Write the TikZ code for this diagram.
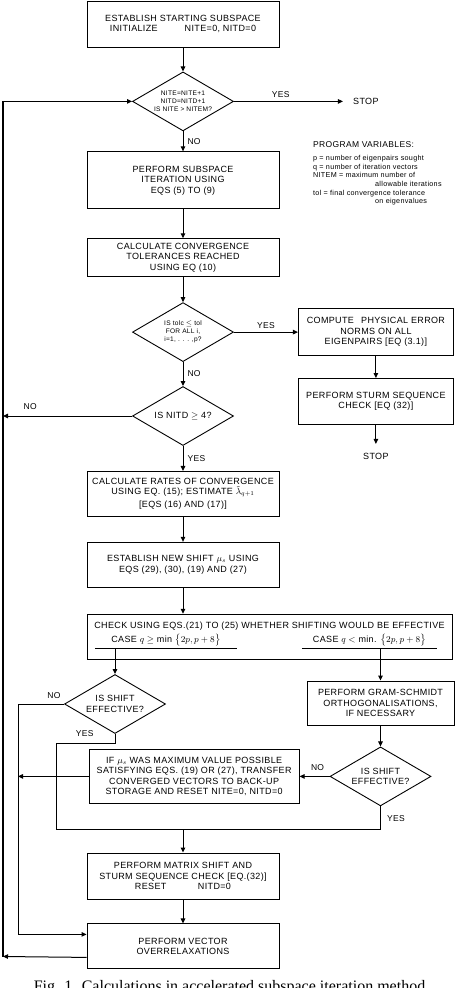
\documentclass[tikz,border=0pt]{standalone}
\usepackage{fontspec}
\setmainfont{Liberation Sans}[LetterSpace=4.0]
\newfontfamily\capfont{Liberation Serif}
\usetikzlibrary{arrows.meta,positioning,shapes.geometric}
\newcommand{\dtxt}{\fontsize{6.6}{8}\selectfont}
\newcommand{\vtxt}{\fontsize{7.2}{8.6}\selectfont}

\begin{document}
\begin{tikzpicture}[x=1pt, y=-1pt, font=\fontsize{9}{10.5}\selectfont,
  st/.style={draw, line width=0.9pt, align=center, inner sep=3pt, minimum width=192pt},
  dec/.style={draw, line width=0.9pt, diamond, aspect=1.7, inner sep=-1.5pt, align=center,
    minimum width=101pt, minimum height=59pt},
  ar/.style={-{Triangle[length=5pt,width=4.5pt]}, line width=1pt},
  ln/.style={line width=1pt},
  lbl/.style={font=\fontsize{8.5}{9}\selectfont, inner sep=1pt},
  stopnode/.style={inner xsep=10pt, inner ysep=9pt}]
  \useasboundingbox (0,0) rectangle (474,988);
  \node[st, minimum height=46pt] (s1) at (183,24) {ESTABLISH STARTING SUBSPACE\\INITIALIZE\hspace{3em}NITE=0, NITD=0};
  \node[dec, below=24pt of s1, font=\dtxt] (d1) {NITE=NITE+1\\NITD=NITD+1\\IS NITE > NITEM?};
  \node[stopnode, right=109pt of d1] (stop1) {STOP};
  \node[st, below=20pt of d1, minimum height=57pt] (s2) {PERFORM SUBSPACE\\ITERATION USING\\EQS (5) TO (9)};
  \node[st, below=29pt of s2, minimum height=38pt, inner ysep=1pt] (s3) {CALCULATE CONVERGENCE\\TOLERANCES REACHED\\USING EQ (10)};
  \node[dec, below=25pt of s3, font=\dtxt] (d2) {IS tolc $\leq$ tol\\FOR ALL i,\\i=1, . . . ,p?};
  \node[st, right=64pt of d2, minimum width=155pt, minimum height=47pt] (e1) {COMPUTE\hspace{0.8em}PHYSICAL ERROR\\NORMS ON ALL\\EIGENPAIRS [EQ (3.1)]};
  \node[st, below=22pt of e1, minimum width=155pt, minimum height=46pt] (e2) {PERFORM STURM SEQUENCE\\CHECK [EQ (32)]};
  \node[stopnode, below=19pt of e2] (stop2) {STOP};
  \node[dec, below=24pt of d2] (d3) {IS NITD $\geq$ 4?};
  \node[st, below=25pt of d3, minimum height=45pt, inner ysep=1pt] (s4) {CALCULATE RATES OF CONVERGENCE\\USING EQ. (15); ESTIMATE $\tilde{\lambda}_{q+1}$\\[2.5pt]{[}EQS (16) AND (17){]}};
  \node[st, below=25pt of s4, minimum height=45pt] (s5) {ESTABLISH NEW SHIFT $\mu_s$ USING\\EQS (29), (30), (19) AND (27)};
  \node[st, below=26pt of s5.south west, anchor=north west, minimum width=365pt, minimum height=45pt,
    label={[name=t6, anchor=north, yshift=-5pt]north:{CHECK USING EQS.(21) TO (25) WHETHER SHIFTING WOULD BE EFFECTIVE}}] (s6) {};
  \node[anchor=south, minimum width=142pt, inner sep=1.5pt] (c1) at (166,648) {CASE $q\geq$ min $\bigl\{2p, p+8\bigr\}$};
  \node[anchor=south, minimum width=135pt, inner sep=1.5pt] (c2) at (369.5,648) {CASE $q<$ min. $\bigl\{2p, p+8\bigr\}$};
  \node[dec] (d4) at (115,704) {IS SHIFT\\EFFECTIVE?};
  \node[st, minimum width=147pt, minimum height=44pt] (gs) at (380.5,703) {PERFORM GRAM-SCHMIDT\\ORTHOGONALISATIONS,\\IF NECESSARY};
  \node[dec, below=21pt of gs] (d5) {IS SHIFT\\EFFECTIVE?};
  \node[st, left=30pt of d5, minimum width=210pt, minimum height=54pt] (ifb) {IF $\mu_s$ WAS MAXIMUM VALUE POSSIBLE\\SATISFYING EQS. (19) OR (27), TRANSFER\\CONVERGED VECTORS TO BACK-UP\\STORAGE AND RESET NITE=0, NITD=0};
  \node[st, minimum height=46pt] (s7) at (183,876) {PERFORM MATRIX SHIFT AND\\STURM SEQUENCE CHECK [EQ.(32)]\\RESET\hspace{3.5em}NITD=0};
  \node[st, below=24pt of s7, minimum height=45pt] (s8) {PERFORM VECTOR\\OVERRELAXATIONS};
  \node[anchor=north west, align=left, inner sep=0pt, font=\vtxt] (pv) at (313,141)
    {{\fontsize{8.5}{10}\selectfont PROGRAM VARIABLES:}\\[5pt]
     p = number of eigenpairs sought\\
     q = number of iteration vectors\\
     NITEM = maximum number of\\
     \hspace*{62pt}allowable iterations\\
     tol = final convergence tolerance\\
     \hspace*{62pt}on eigenvalues};
  \node[anchor=north, inner sep=0pt, font=\capfont\fontsize{16}{18}\selectfont] (cap) at (229.5,980.5)
    {Fig. 1. Calculations in accelerated subspace iteration method};
  \coordinate (in8) at ([yshift=12pt]s8.west);
  \coordinate (out8) at ([yshift=-11pt]s8.west);
  \coordinate (la) at (3,956.5);
  \coordinate (nx) at (18,704);
  \coordinate (ya) at (115,743);
  \coordinate (yb) at (56,743);
  \coordinate (yc) at (56,829);
  \foreach \a/\b in {s1/d1,s2/s3,s3/d2,s4/s5,e1/e2,e2/stop2,gs/d5,s7/s8} \draw[ar] (\a)--(\b);
  \draw[ar] (s5) -- (s5 |- s6.north);
  \draw[ar] (d1) -- node[lbl, pos=0.43, above=2pt] {YES} (stop1);
  \draw[ar] (d1) -- node[lbl, midway, right=3pt] {NO} (s2);
  \draw[ar] (d2) -- node[lbl, midway, above=2pt] {YES} (e1);
  \draw[ar] (d2) -- node[lbl, midway, right=3pt] {NO} (d3);
  \draw[ar] (d3) -- node[lbl, midway, right=3pt] {YES} (s4);
  \draw[ar] (d3) -- node[lbl, pos=0.79, above=5pt] {NO} (d3 -| la);
  \draw[ln] (c1.south west) -- (c1.south east);
  \draw[ln] (c2.south west) -- (c2.south east);
  \draw[ar] (c1.south -| d4.north) -- (d4.north);
  \draw[ar] (c2.south -| gs.north) -- (gs.north);
  \draw[ar] (d4.west) -- node[lbl, pos=0.22, above=4pt] {NO} (nx) -- (nx |- in8) -- (in8);
  \draw[ar] (ifb.west) -- (ifb.west -| nx);
  \draw[ar] (d5) -- node[lbl, pos=0.4, above=4pt] {NO} (ifb);
  \draw[ln] (d4.south) node[lbl, left=20pt] {YES} -- (ya) -- (yb) -- (yc) -- (yc -| d5.south)
    -- node[lbl, pos=0.45, right=5pt] {YES} (d5.south);
  \draw[ar] (yc -| s7.north) -- (s7.north);
  \draw[ar] (out8) -- (la);
  \draw[line width=1.8pt] (la) -- (la |- d1.west);
  \draw[ar] (la |- d1.west) -- (d1.west);
\end{tikzpicture}
\end{document}
